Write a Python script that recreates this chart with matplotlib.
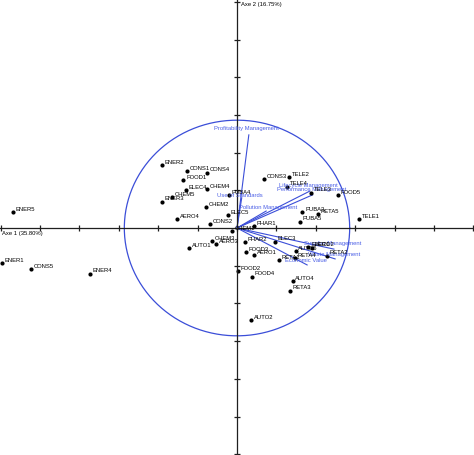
import numpy as np
import matplotlib
matplotlib.use("Agg")
import matplotlib.pyplot as plt

# ---- data: individuals (factor scores on Axe 1 / Axe 2) ----
point_labels = ["ENER5", "ENER1", "CONS5", "ENER4", "ENER2", "CONS1", "CONS4", "FOOD1",
                "ELEC4", "CHEM4", "CHEM5", "ENER3", "CHEM2", "AERO4", "ELEC5", "CONS2",
                "PUBA4", "PHAR1", "CONS3", "TELE2", "TELE4", "TELE3", "FOOD5", "RETA5",
                "PUBA3", "PUBA5", "TELE1", "CHEM1", "CHEM3", "AERO3", "AUTO1", "PHAR2",
                "FOOD3", "AERO1", "FOOD2", "FOOD4", "ELEC3", "RETA1", "RETA4", "AUTO5",
                "ELEC1", "AERO2", "RETA2", "AUTO4", "RETA3", "AUTO2"]
point_x = [-5.68, -5.96, -5.24, -3.73, -1.90, -1.27, -0.75, -1.36,
           -1.29, -0.77, -1.66, -1.90, -0.79, -1.52, -0.24, -0.68,
           -0.20, 0.43, 0.69, 1.31, 1.26, 1.88, 2.56, 2.06,
           1.66, 1.60, 3.10, -0.12, -0.64, -0.53, -1.22, 0.20,
           0.23, 0.43, 0.03, 0.37, 0.96, 1.07, 1.47, 1.49,
           1.81, 1.90, 2.28, 1.41, 1.35, 0.36]
point_y = [0.42, -0.92, -1.08, -1.21, 1.68, 1.52, 1.47, 1.27,
           1.01, 1.04, 0.81, 0.70, 0.55, 0.24, 0.34, 0.11,
           0.87, 0.05, 1.29, 1.36, 1.10, 0.94, 0.88, 0.36,
           0.43, 0.17, 0.24, -0.09, -0.34, -0.42, -0.54, -0.38,
           -0.63, -0.72, -1.14, -1.29, -0.36, -0.85, -0.80, -0.61,
           -0.50, -0.52, -0.73, -1.41, -1.66, -2.44]

# ---- data: variables (arrow tips) ----
var_labels = ["Profitability Management", "Use of Standards", "Pollution Management",
              "Lifecycle Management", "Performance Management",
              "Supplier Management", "Waste Management", "Economic Value"]
var_x = [0.30, 0.12, 0.74, 1.85, 1.92, 2.46, 2.49, 1.78]
var_y = [2.47, 0.80, 0.45, 0.98, 0.88, -0.56, -0.82, -0.98]

circle_radius = 2.86
axis1_label = "Axe 1 (35.80%)"
axis2_label = "Axe 2 (16.75%)"

# ---- figure ----
W, H = 474, 455
fig = plt.figure(figsize=(W / 100, H / 100), dpi=100)
ax = fig.add_axes([0, 0, 1, 1])
ax.set_xlim(-237 / 39.4, 237 / 39.4)
ax.set_ylim(-227 / 37.7, 228 / 37.7)

font = "Liberation Sans"
axcol = "#1f1f1f"
blue = "#3b4ed8"
tblue = "#4b5fe6"
fs = 4.2

for side in ["top", "right"]:
    ax.spines[side].set_visible(False)
ax.spines["left"].set_position(("data", 0))
ax.spines["bottom"].set_position(("data", 0))
for side in ["left", "bottom"]:
    ax.spines[side].set_color(axcol)
    ax.spines[side].set_linewidth(0.9)
ax.set_xticks(np.arange(-6, 7))
ax.set_yticks(np.arange(-6, 7))
ax.tick_params(direction="inout", length=4, width=0.9, color=axcol,
               labelleft=False, labelbottom=False)
ax.patch.set_alpha(0)

# correlation circle
t = np.linspace(0, 2 * np.pi, 500)
ax.plot(circle_radius * np.cos(t), circle_radius * np.sin(t), color=blue, lw=0.9)

# arrows (lines from origin) and their labels
lab_off = [(-1.5, 4.5), (-1.0, 2.0), (1.5, 2.5), (-1.0, 4.0), (-1.0, 4.0),
           (-1.0, 4.0), (-1.0, 3.5), (-1.0, 3.5)]
for xv, yv, lab, off in zip(var_x, var_y, var_labels, lab_off):
    ax.plot([0, xv], [0, yv], color=blue, lw=0.8)
    ax.annotate(lab, (xv, yv), xytext=off, textcoords="offset points",
                ha="center", va="center", fontsize=fs, color=tblue, family=font)

# points
ax.plot(point_x, point_y, "o", color="black", ms=3.0, mec="none")
for xv, yv, lab in zip(point_x, point_y, point_labels):
    ax.annotate(lab, (xv, yv), xytext=(2.0, 1.9), textcoords="offset points",
                ha="left", va="center", fontsize=fs, color="black", family=font)

fig.text(2 / W, 1 - 234 / H, axis1_label, ha="left", va="center", fontsize=fs,
         family=font, color="black")
fig.text(241 / W, 1 - 4.5 / H, axis2_label, ha="left", va="center", fontsize=fs,
         family=font, color="black")

fig.savefig("out.png", dpi=100)
